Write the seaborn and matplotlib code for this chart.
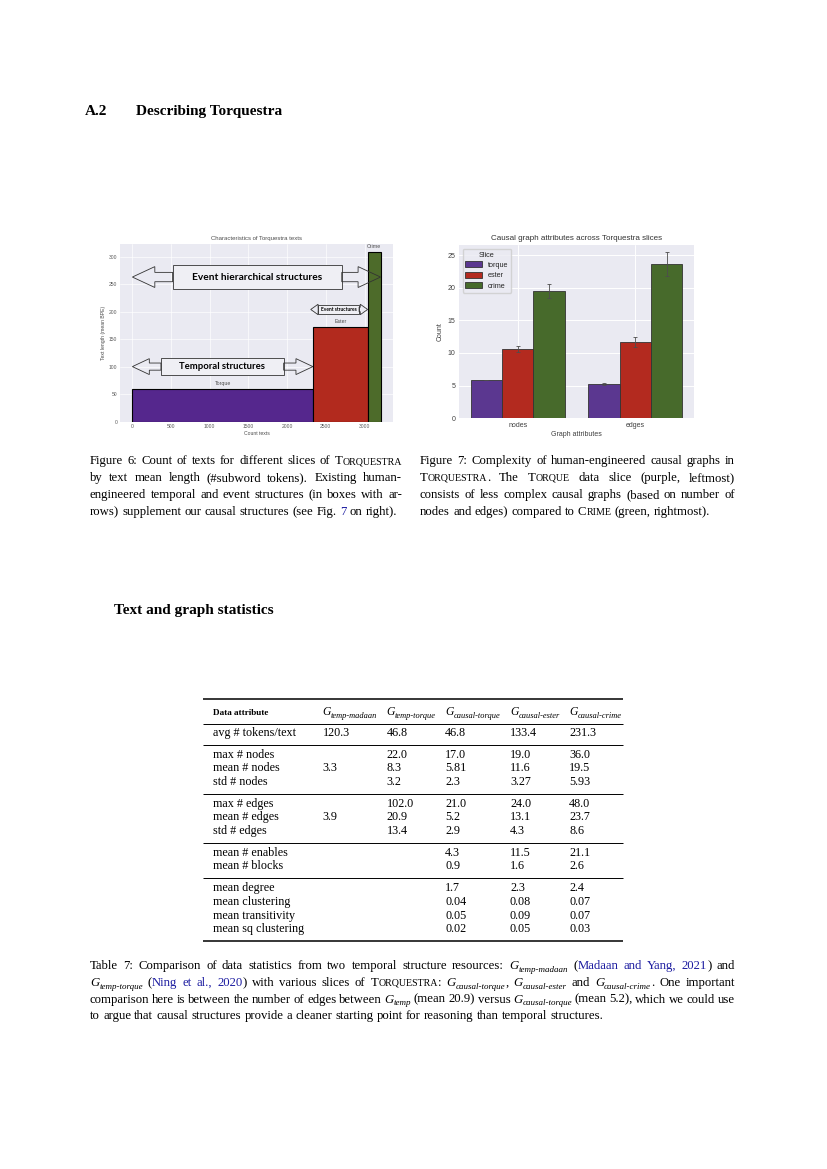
import re
import numpy as np
import pandas as pd
import matplotlib
matplotlib.use("Agg")
import matplotlib.pyplot as plt
import seaborn as sns
from matplotlib.patches import FancyArrow, Rectangle
from matplotlib.container import BarContainer

# --- figure 6 data (left chart) ---
slices = ['Torque', 'Ester', 'Crime']
count_texts = [2333, 707, 167]
text_length = [59, 172, 308]
left_colors = ['#55278d', '#b22a1e', '#4d6b2a']

# --- figure 7 data (right chart) ---
graph_attrs = ['nodes', 'edges']
slice_names = ['torque', 'ester', 'crime']
nodes_mean = [5.85, 10.6, 19.5]
edges_mean = [5.25, 11.65, 23.7]
nodes_err = [0.05, 0.5, 1.05]
edges_err = [0.1, 0.75, 1.8]
right_colors = ['#5b3790', '#b32a1f', '#476a2b']

# --- table 7 ---
col_heads = ['temp-madaan', 'temp-torque', 'causal-torque', 'causal-ester', 'causal-crime']
row_groups = [
    [("avg # tokens/text", ["120.3", "46.8", "46.8", "133.4", "231.3"])],
    [("max # nodes", ["", "22.0", "17.0", "19.0", "36.0"]),
     ("mean # nodes", ["3.3", "8.3", "5.81", "11.6", "19.5"]),
     ("std # nodes", ["", "3.2", "2.3", "3.27", "5.93"])],
    [("max # edges", ["", "102.0", "21.0", "24.0", "48.0"]),
     ("mean # edges", ["3.9", "20.9", "5.2", "13.1", "23.7"]),
     ("std # edges", ["", "13.4", "2.9", "4.3", "8.6"])],
    [("mean # enables", ["", "", "4.3", "11.5", "21.1"]),
     ("mean # blocks", ["", "", "0.9", "1.6", "2.6"])],
    [("mean degree", ["", "", "1.7", "2.3", "2.4"]),
     ("mean clustering", ["", "", "0.04", "0.08", "0.07"]),
     ("mean transitivity", ["", "", "0.05", "0.09", "0.07"]),
     ("mean sq clustering", ["", "", "0.02", "0.05", "0.03"])],
]

cap6 = [
    "Figure 6: Count of texts for different slices of {sc:Torquestra}",
    "by text mean length (#subword tokens).  Existing human-",
    "engineered temporal and event structures (in boxes with ar-",
    "rows) supplement our causal structures (see Fig. {b:7} on right).",
]
cap7 = [
    "Figure 7: Complexity of human-engineered causal graphs in",
    "{sc:Torquestra}.  The {sc:Torque} data slice (purple, leftmost)",
    "consists of less complex causal graphs (based on number of",
    "nodes and edges) compared to {sc:Crime} (green, rightmost).",
]
cap_tab = [
    "Table 7:  Comparison of data statistics from two temporal structure resources: {G:temp-madaan} ({b:Madaan and Yang, 2021}) and",
    "{G:temp-torque} ({b:Ning et al., 2020}) with various slices of {sc:Torquestra}: {G:causal-torque}, {G:causal-ester} and {G:causal-crime}.  One important",
    "comparison here is between the number of edges between {G:temp} (mean 20.9) versus {G:causal-torque} (mean 5.2), which we could use",
    "to argue that causal structures provide a cleaner starting point for reasoning than temporal structures.",
]

SERIF = 'Liberation Serif'
BLUE = '#1c1ca0'
CAP_FS = 9.2

sns.set_theme(style="darkgrid")
plt.rcParams['font.family'] = ['Liberation Sans', 'DejaVu Sans']

fig = plt.figure(figsize=(8.27, 11.69), dpi=100)
pg = fig.add_axes([0, 0, 1, 1], zorder=0)
pg.set_xlim(0, 827)
pg.set_ylim(1169, 0)
pg.axis('off')
rend = fig.canvas.get_renderer()


def kw(size, style='normal', weight='normal', color='black'):
    return dict(fontsize=size, family=SERIF, fontstyle=style, fontweight=weight, color=color)


def text_w(txt, **k):
    t = pg.text(0, 0, txt, **k)
    w = t.get_window_extent(rend).width
    t.remove()
    return w


def expand(style, txt, fs, sub=0.7):
    if style == 'b':
        return [(txt, kw(fs, color=BLUE), 0)]
    if style == 'sc':
        return [(txt[0].upper(), kw(fs), 0), (txt[1:].upper(), kw(fs * 0.78), 0)]
    if style == 'G':
        return [('G', kw(fs, style='italic'), 0), (txt, kw(fs * sub, style='italic'), fs * 0.3)]
    if style == 'bd':
        return [(txt, kw(fs, weight='bold'), 0)]
    return [(txt, kw(fs), 0)]


def parse(line):
    spans, pos = [], 0
    for m in re.finditer(r'\{(\w+):([^}]*)\}', line):
        if m.start() > pos:
            spans.append(('n', line[pos:m.start()]))
        spans.append((m.group(1), m.group(2)))
        pos = m.end()
    if pos < len(line):
        spans.append(('n', line[pos:]))
    words, cur = [], []
    for style, txt in spans:
        for i, p in enumerate(txt.split(' ')):
            if i > 0 and cur:
                words.append(cur)
                cur = []
            if p:
                cur.append((style, p))
    if cur:
        words.append(cur)
    return words


def draw_line(x, y, line, fs=10, width=None, sub=0.7):
    measured = []
    for w in parse(line):
        pieces = []
        for style, txt in w:
            pieces += expand(style, txt, fs, sub)
        measured.append((pieces, [text_w(p[0], **p[1]) for p in pieces]))
    total = sum(sum(ws) for _, ws in measured)
    if width and len(measured) > 1:
        gap = (width - total) / (len(measured) - 1)
    else:
        gap = 0.25 * fs * 100 / 72
    cx = x
    for pieces, ws in measured:
        for (txt, k, dy), wd in zip(pieces, ws):
            pg.text(cx, y + dy, txt, ha='left', va='baseline', **k)
            cx += wd
        cx += gap


def draw_par(x, y0, lines, width, fs=CAP_FS, step=17):
    for i, ln in enumerate(lines):
        last = i == len(lines) - 1
        draw_line(x, y0 + i * step, ln, fs=fs, width=None if last else width)


# --- headings ---
pg.text(85, 115, "A.2", ha='left', va='baseline', **kw(11, weight='bold'))
pg.text(136, 115, "Describing Torquestra", ha='left', va='baseline', **kw(11, weight='bold'))
pg.text(114, 614, "Text and graph statistics", ha='left', va='baseline', **kw(11, weight='bold'))

# --- left chart: text counts by mean length ---
ax1 = fig.add_axes([0.1451, 0.6394, 0.330, 0.1518])
lefts = np.concatenate([[0], np.cumsum(count_texts)[:-1]])
ax1.bar(lefts, text_length, width=count_texts, align='edge', color=left_colors,
        edgecolor='black', linewidth=0.8, zorder=2)
for l, w, h, name in zip(lefts, count_texts, text_length, slices):
    ax1.text(l + w / 2, h + 6, name, ha='center', va='bottom', fontsize=3.8, color='.3')
ax1.set_xlim(-160, 3367)
ax1.set_ylim(0, 323)
ax1.set_xticks(range(0, 3001, 500))
ax1.set_yticks(range(0, 301, 50))
ax1.grid(linewidth=0.45)
ax1.tick_params(labelsize=3.6, pad=2, length=0, colors='.35')
ax1.set_title("Characteristics of Torquestra texts", fontsize=4.3, pad=3, color='.3')
ax1.set_xlabel("Count texts", fontsize=3.7, labelpad=1, color='.3')
ax1.set_ylabel("Text length (mean BPE)", fontsize=3.7, labelpad=2, color='.3')
for sp in ax1.spines.values():
    sp.set_visible(False)


def arrow_box(ax, x0, x1, y, box_h, tip0, tip1, shaft_w, head_w, head_l, label, fs):
    ax.add_patch(Rectangle((x0, y - box_h / 2), x1 - x0, box_h, facecolor='#efeff4',
                           edgecolor='#333333', linewidth=0.6, zorder=4))
    ax.add_patch(FancyArrow(x0, y, tip0 - x0, 0, width=shaft_w, head_width=head_w,
                            head_length=head_l, length_includes_head=True,
                            facecolor='none', edgecolor='#333333', linewidth=0.6, zorder=4))
    ax.add_patch(FancyArrow(x1, y, tip1 - x1, 0, width=shaft_w, head_width=head_w,
                            head_length=head_l, length_includes_head=True,
                            facecolor='none', edgecolor='#333333', linewidth=0.6, zorder=4))
    ax.text((x0 + x1) / 2, y, label, ha='center', va='center', fontsize=fs,
            family='Lato', fontweight='bold', color='black', zorder=5)


arrow_box(ax1, 520, 2706, 263, 45, 0, 3207, 17, 38, 290, "Event hierarchical structures", 7.3)
arrow_box(ax1, 369, 1955, 100, 32, 0, 2333, 13, 29, 219, "Temporal structures", 6.8)
arrow_box(ax1, 2401, 2930, 204, 16, 2305, 3040, 8, 19, 95, "Event structures", 3.5)

# --- right chart: causal graph attributes ---
df7 = pd.DataFrame({
    'attribute': np.repeat(graph_attrs, len(slice_names)),
    'slice': slice_names * len(graph_attrs),
    'count': nodes_mean + edges_mean,
})
ax2 = fig.add_axes([0.555, 0.6424, 0.2842, 0.148])
sns.barplot(data=df7, x='attribute', y='count', hue='slice', palette=right_colors,
            saturation=1, edgecolor='.2', linewidth=0.6, errorbar=None, ax=ax2)
errs = [nodes_err, edges_err]
bar_groups = [c for c in ax2.containers if isinstance(c, BarContainer)]
for i, cont in enumerate(bar_groups):
    for j, bar in enumerate(cont):
        ax2.errorbar(bar.get_x() + bar.get_width() / 2, bar.get_height(), yerr=errs[j][i],
                     color='.3', linewidth=0.6, capsize=1.6, capthick=0.6)
ax2.set_xlim(-0.5, 1.5)
ax2.set_ylim(0, 26.6)
ax2.set_yticks(range(0, 26, 5))
ax2.grid(linewidth=0.7)
ax2.tick_params(labelsize=5, pad=2.5, length=0, colors='.25')
ax2.set_title("Causal graph attributes across Torquestra slices", fontsize=5.8, pad=3.5, color='.2')
ax2.set_xlabel("Graph attributes", fontsize=5, labelpad=2, color='.25')
ax2.set_ylabel("Count", fontsize=5, labelpad=3, color='.25')
ax2.legend(title='Slice', loc='upper left', fontsize=5.2, title_fontsize=5.3,
           handlelength=2.3, handleheight=0.9, borderpad=0.4, labelspacing=0.4)
for sp in ax2.spines.values():
    sp.set_visible(False)

# --- captions ---
draw_par(90, 464, cap6, 312)
draw_par(420, 464, cap7, 315)

# --- table ---
TX0, TX1 = 203, 623
col_x = [322.7, 386.7, 445, 510, 569]
TFS = 8.7


def rule(y, lw):
    pg.plot([TX0, TX1], [y, y], color='black', linewidth=lw, solid_capstyle='butt')


rule(699, 1.1)
pg.text(213, 715, "Data attribute", ha='left', va='baseline', **kw(6.6, weight='bold'))
for x, h in zip(col_x, col_heads):
    draw_line(x, 715, "{G:" + h + "}", fs=8.4, sub=0.72)
rule(723.5, 0.7)
y = 723.5
step = 13.8
for gi, grp in enumerate(row_groups):
    y += 9.0 if gi == 0 else 9.5
    for name, vals in grp:
        pg.text(213, y + 3.5, name, ha='left', va='baseline', **kw(TFS))
        for x, v in zip(col_x, vals):
            if v:
                pg.text(x, y + 3.5, v, ha='left', va='baseline', **kw(TFS))
        y += step
    y += 12.0 - step
    rule(y, 1.1 if gi == len(row_groups) - 1 else 0.7)

draw_par(90, 969, cap_tab, 645, step=16.8)

fig.savefig("out.png", dpi=100)
